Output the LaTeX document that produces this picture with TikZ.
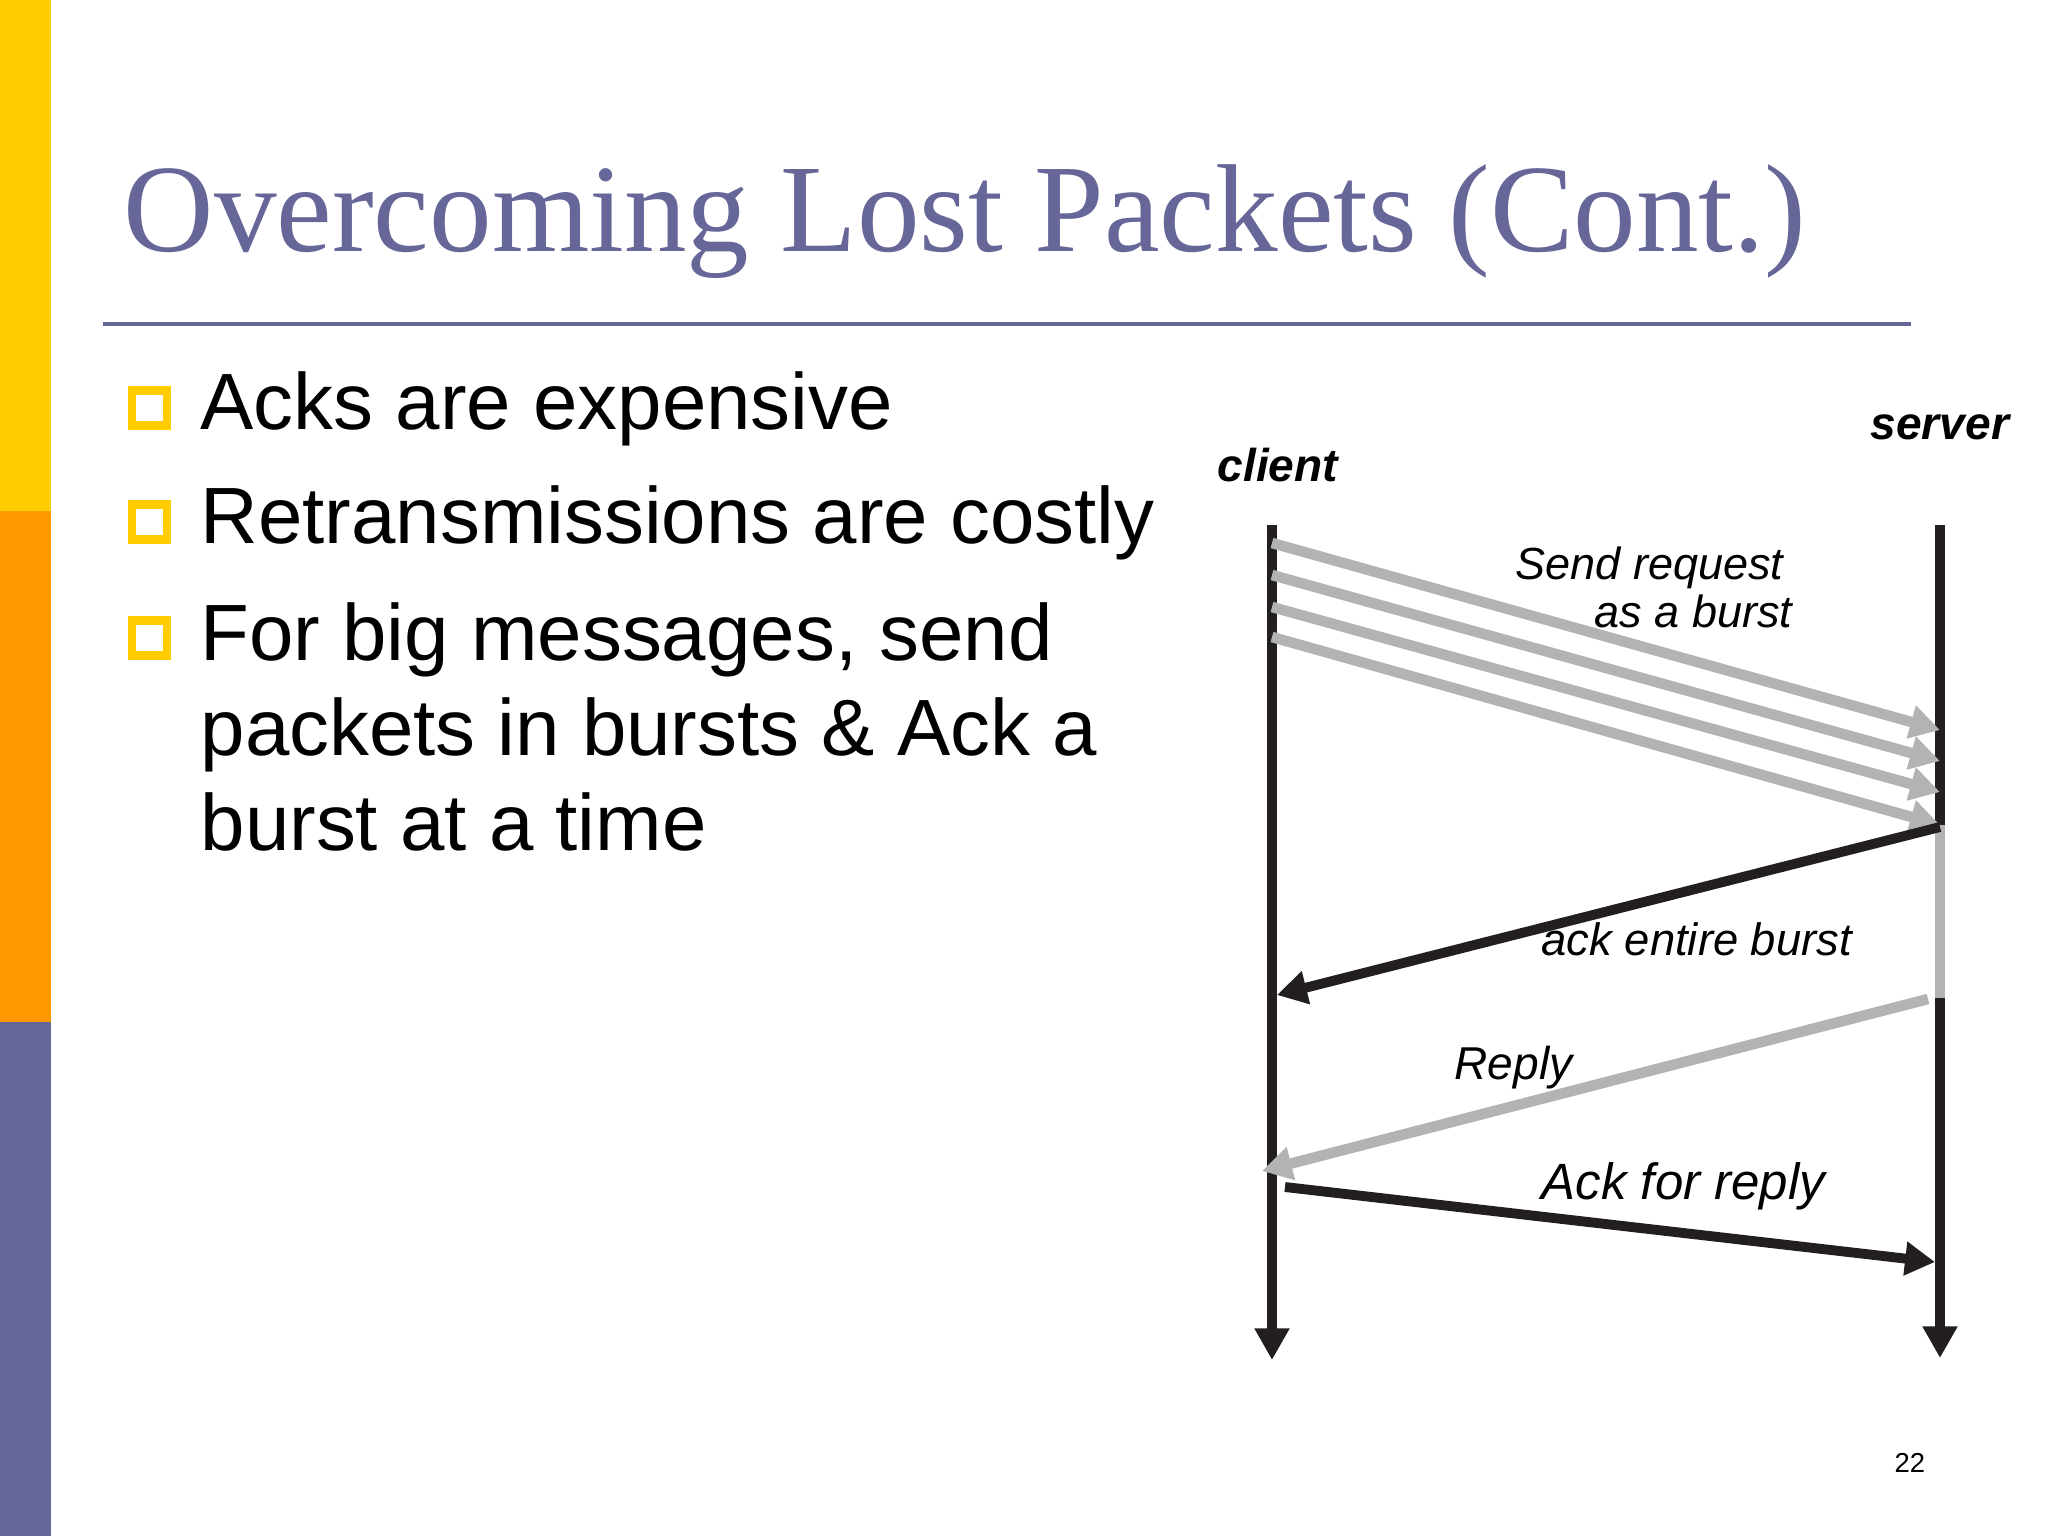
\documentclass[tikz,border=0pt]{standalone}
\usepackage{fontspec}
\setmainfont{Liberation Sans}
\newfontfamily\titlefont{Liberation Serif}
\usepackage{xcolor}
\usetikzlibrary{arrows.meta,positioning}
\definecolor{slideyellow}{HTML}{FFCC00}
\definecolor{slideorange}{HTML}{FF9900}
\definecolor{slidepurple}{HTML}{666699}
\definecolor{msgdark}{HTML}{231F20}
\definecolor{msggray}{HTML}{B3B3B3}
\tikzset{
  slidetitle/.style = {anchor=base west, inner sep=0pt, text=slidepurple,
                       font=\titlefont\fontsize{35.6}{40}\selectfont},
  itemtext/.style   = {anchor=base west, inner sep=0pt,
                       font=\fontsize{22.7}{27}\selectfont},
  itembox/.style    = {draw=slideyellow, line width=2.3pt, minimum size=3.5mm,
                       inner sep=0pt},
  actor/.style      = {anchor=base west, inner sep=0pt,
                       font=\bfseries\itshape\fontsize{13.1}{15}\selectfont},
  msglab/.style     = {anchor=base west, inner sep=0pt,
                       font=\itshape\fontsize{12.8}{15}\selectfont},
  lifeline/.style   = {msgdark, line width=2.85pt,
                       -{Triangle[length=9pt,width=9.4pt]}},
  burst/.style      = {msggray, line width=3pt,
                       -{Triangle[length=8.5pt,width=9.2pt]}},
  ackmsg/.style     = {msgdark, line width=2.8pt,
                       -{Triangle[length=8.5pt,width=9.2pt]}},
}

\begin{document}
\begin{tikzpicture}[x=0.01cm, y=-0.01cm]
  \fill[white] (0,0) rectangle (2048,1536);
  \useasboundingbox (0,0) rectangle (2048,1536);
  \fill[slideyellow] (0,0) rectangle (51,511);
  \fill[slideorange] (0,511) rectangle (51,1022);
  \fill[slidepurple] (0,1022) rectangle (51,1536);

  \node[slidetitle] (title) at (123,251) {Overcoming Lost Packets (Cont.)};
  \coordinate (rulel) at (103,324);
  \coordinate (ruler) at (1911,324);
  \draw[slidepurple, line width=1.15pt] (rulel) -- (ruler);

  \node[itembox] (box1) at (149.5,408) {};
  \node[itembox] (box2) at (149.5,522) {};
  \node[itembox] (box3) at (149.5,638) {};
  \node[itemtext] (item1) at (200,429) {Acks are expensive};
  \node[itemtext] (item2) at (200,543) {Retransmissions are costly};
  \node[itemtext] (item3a) at (200,660) {For big messages, send};
  \node[itemtext] (item3b) at (200,755) {packets in bursts \& Ack a};
  \node[itemtext] (item3c) at (200,850) {burst at a time};

  \node[actor] (client) at (1217,481) {client};
  \node[actor] (server) at (1870,439) {server};

  \coordinate (ctop) at (1272,525);
  \coordinate (cbot) at (1272,1360);
  \coordinate (stop) at (1940,525);
  \coordinate (sbot) at (1940,1358);
  \coordinate (c1) at (1272,543);
  \coordinate (c2) at (1272,575);
  \coordinate (c3) at (1272,607);
  \coordinate (c4) at (1272,637);
  \coordinate (s1) at (1940,730);
  \coordinate (s2) at (1940,761);
  \coordinate (s3) at (1940,792);
  \coordinate (s4) at (1940,825);
  \coordinate (sack) at (1940,827);
  \coordinate (cack) at (1277,995);
  \coordinate (sgray) at (1940,998);
  \coordinate (srep) at (1928,999);
  \coordinate (crep) at (1262,1171);
  \coordinate (cfin) at (1285,1187);
  \coordinate (sfin) at (1935,1262);

  \draw[lifeline] (ctop) -- (cbot);
  \draw[lifeline] (stop) -- (sbot);
  \draw[msggray, line width=2.85pt] (s4) -- (sgray);

  \draw[burst] (c1) -- (s1);
  \draw[burst] (c2) -- (s2);
  \draw[burst] (c3) -- (s3);
  \draw[burst] (c4) -- (s4);
  \draw[ackmsg] (sack) -- (cack);
  \draw[burst] (srep) -- (crep);
  \draw[ackmsg] (cfin) -- (sfin);

  \node[msglab] (sendlab) at (1515,579) {Send request};
  \node[msglab, anchor=base east] (burstlab) at (1793,627) {as a burst};
  \node[msglab, font=\itshape\fontsize{12.9}{15}\selectfont] (acklab) at (1541,955) {ack entire burst};
  \node[msglab, font=\itshape\fontsize{13.1}{15}\selectfont] (replylab) at (1454,1079) {Reply};
  \node[msglab, font=\itshape\fontsize{14.5}{17}\selectfont] (finlab) at (1541,1199) {Ack for reply};

  \node[anchor=base west, inner sep=0pt, font=\fontsize{7.8}{9}\selectfont] (pagenum) at (1894,1472) {22};
\end{tikzpicture}
\end{document}
